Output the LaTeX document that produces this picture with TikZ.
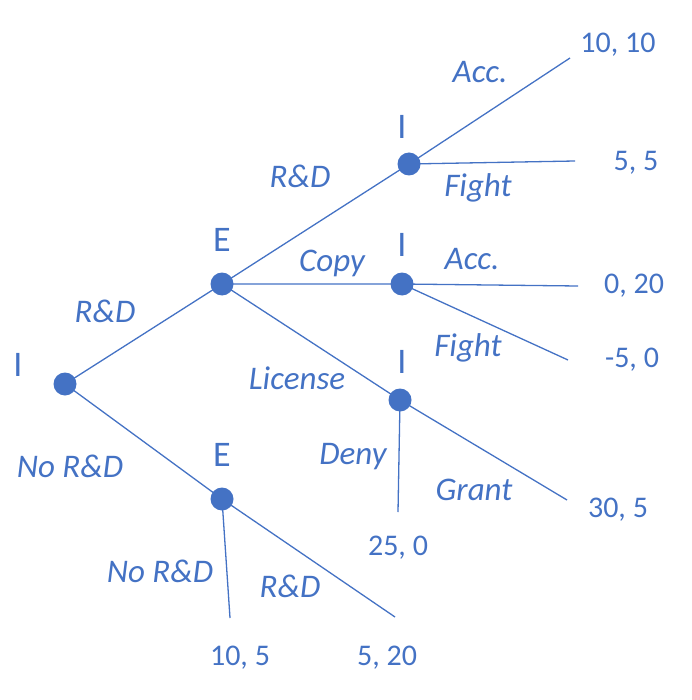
\documentclass[tikz,border=0pt]{standalone}
\usepackage{fontspec}
\setmainfont{Carlito}
\definecolor{bl}{HTML}{4472C4}
\begin{document}
\begin{tikzpicture}[x=1pt,y=-1pt,
  dot/.style={circle,fill=bl,inner sep=0pt,minimum size=23pt},
  edge/.style={draw=bl,line width=1.3pt},
  lbl/.style={text=bl,font=\fontsize{30}{34}\selectfont},
  plbl/.style={text=bl,font=\fontsize{36}{40}\selectfont},
  elbl/.style={text=bl,font=\fontsize{33}{38}\selectfont\itshape}]
\useasboundingbox (0,0) rectangle (691,700);
\node[dot] (i0) at (65,384) {};
\node[dot] (e1) at (222,284) {};
\node[dot] (e2) at (222,499) {};
\node[dot] (i1) at (409,164) {};
\node[dot] (i2) at (402,284) {};
\node[dot] (i3) at (400,400) {};
\coordinate (l1) at (570,58);
\coordinate (l2) at (575,161);
\coordinate (l3) at (578,286);
\coordinate (l4) at (568,360);
\coordinate (l5) at (567,500);
\coordinate (l6) at (398,512);
\coordinate (l7) at (230,618);
\coordinate (l8) at (395,617);
\draw[edge] (i0.center)--(e1.center) (i0.center)--(e2.center)
 (e1.center)--(i1.center) (e1.center)--(i2.center) (e1.center)--(i3.center)
 (i1.center)--(l1) (i1.center)--(l2) (i2.center)--(l3) (i2.center)--(l4)
 (i3.center)--(l5) (i3.center)--(l6) (e2.center)--(l7) (e2.center)--(l8);
\node[plbl] (t1) at (18,365) {I};
\node[plbl] (t2) at (222,240) {E};
\node[plbl] (t3) at (222,455) {E};
\node[plbl] (t4) at (402,127) {I};
\node[plbl] (t5) at (402,245) {I};
\node[plbl] (t6) at (402,362) {I};
\node[lbl] (p1) at (618,45) {10, 10};
\node[lbl] (p2) at (636,163) {5, 5};
\node[lbl] (p3) at (634,286) {0, 20};
\node[lbl] (p4) at (632,360) {-5, 0};
\node[lbl] (p5) at (618,510) {30, 5};
\node[lbl] (p6) at (398,548) {25, 0};
\node[lbl] (p7) at (240,658) {10, 5};
\node[lbl] (p8) at (387,658) {5, 20};
\node[elbl] (a1) at (105,311) {R\&D};
\node[elbl] (a2) at (70,466) {No R\&D};
\node[elbl] (a3) at (300,176) {R\&D};
\node[elbl] (a4) at (332,263) {Copy};
\node[elbl] (a5) at (297,378) {License};
\node[elbl] (a6) at (480,72) {Acc.};
\node[elbl] (a7) at (478,188) {Fight};
\node[elbl] (a8) at (472,259) {Acc.};
\node[elbl] (a9) at (468,348) {Fight};
\node[elbl] (a10) at (353,457) {Deny};
\node[elbl] (a11) at (474,490) {Grant};
\node[elbl] (a12) at (160,571) {No R\&D};
\node[elbl] (a13) at (290,586) {R\&D};
\end{tikzpicture}
\end{document}
